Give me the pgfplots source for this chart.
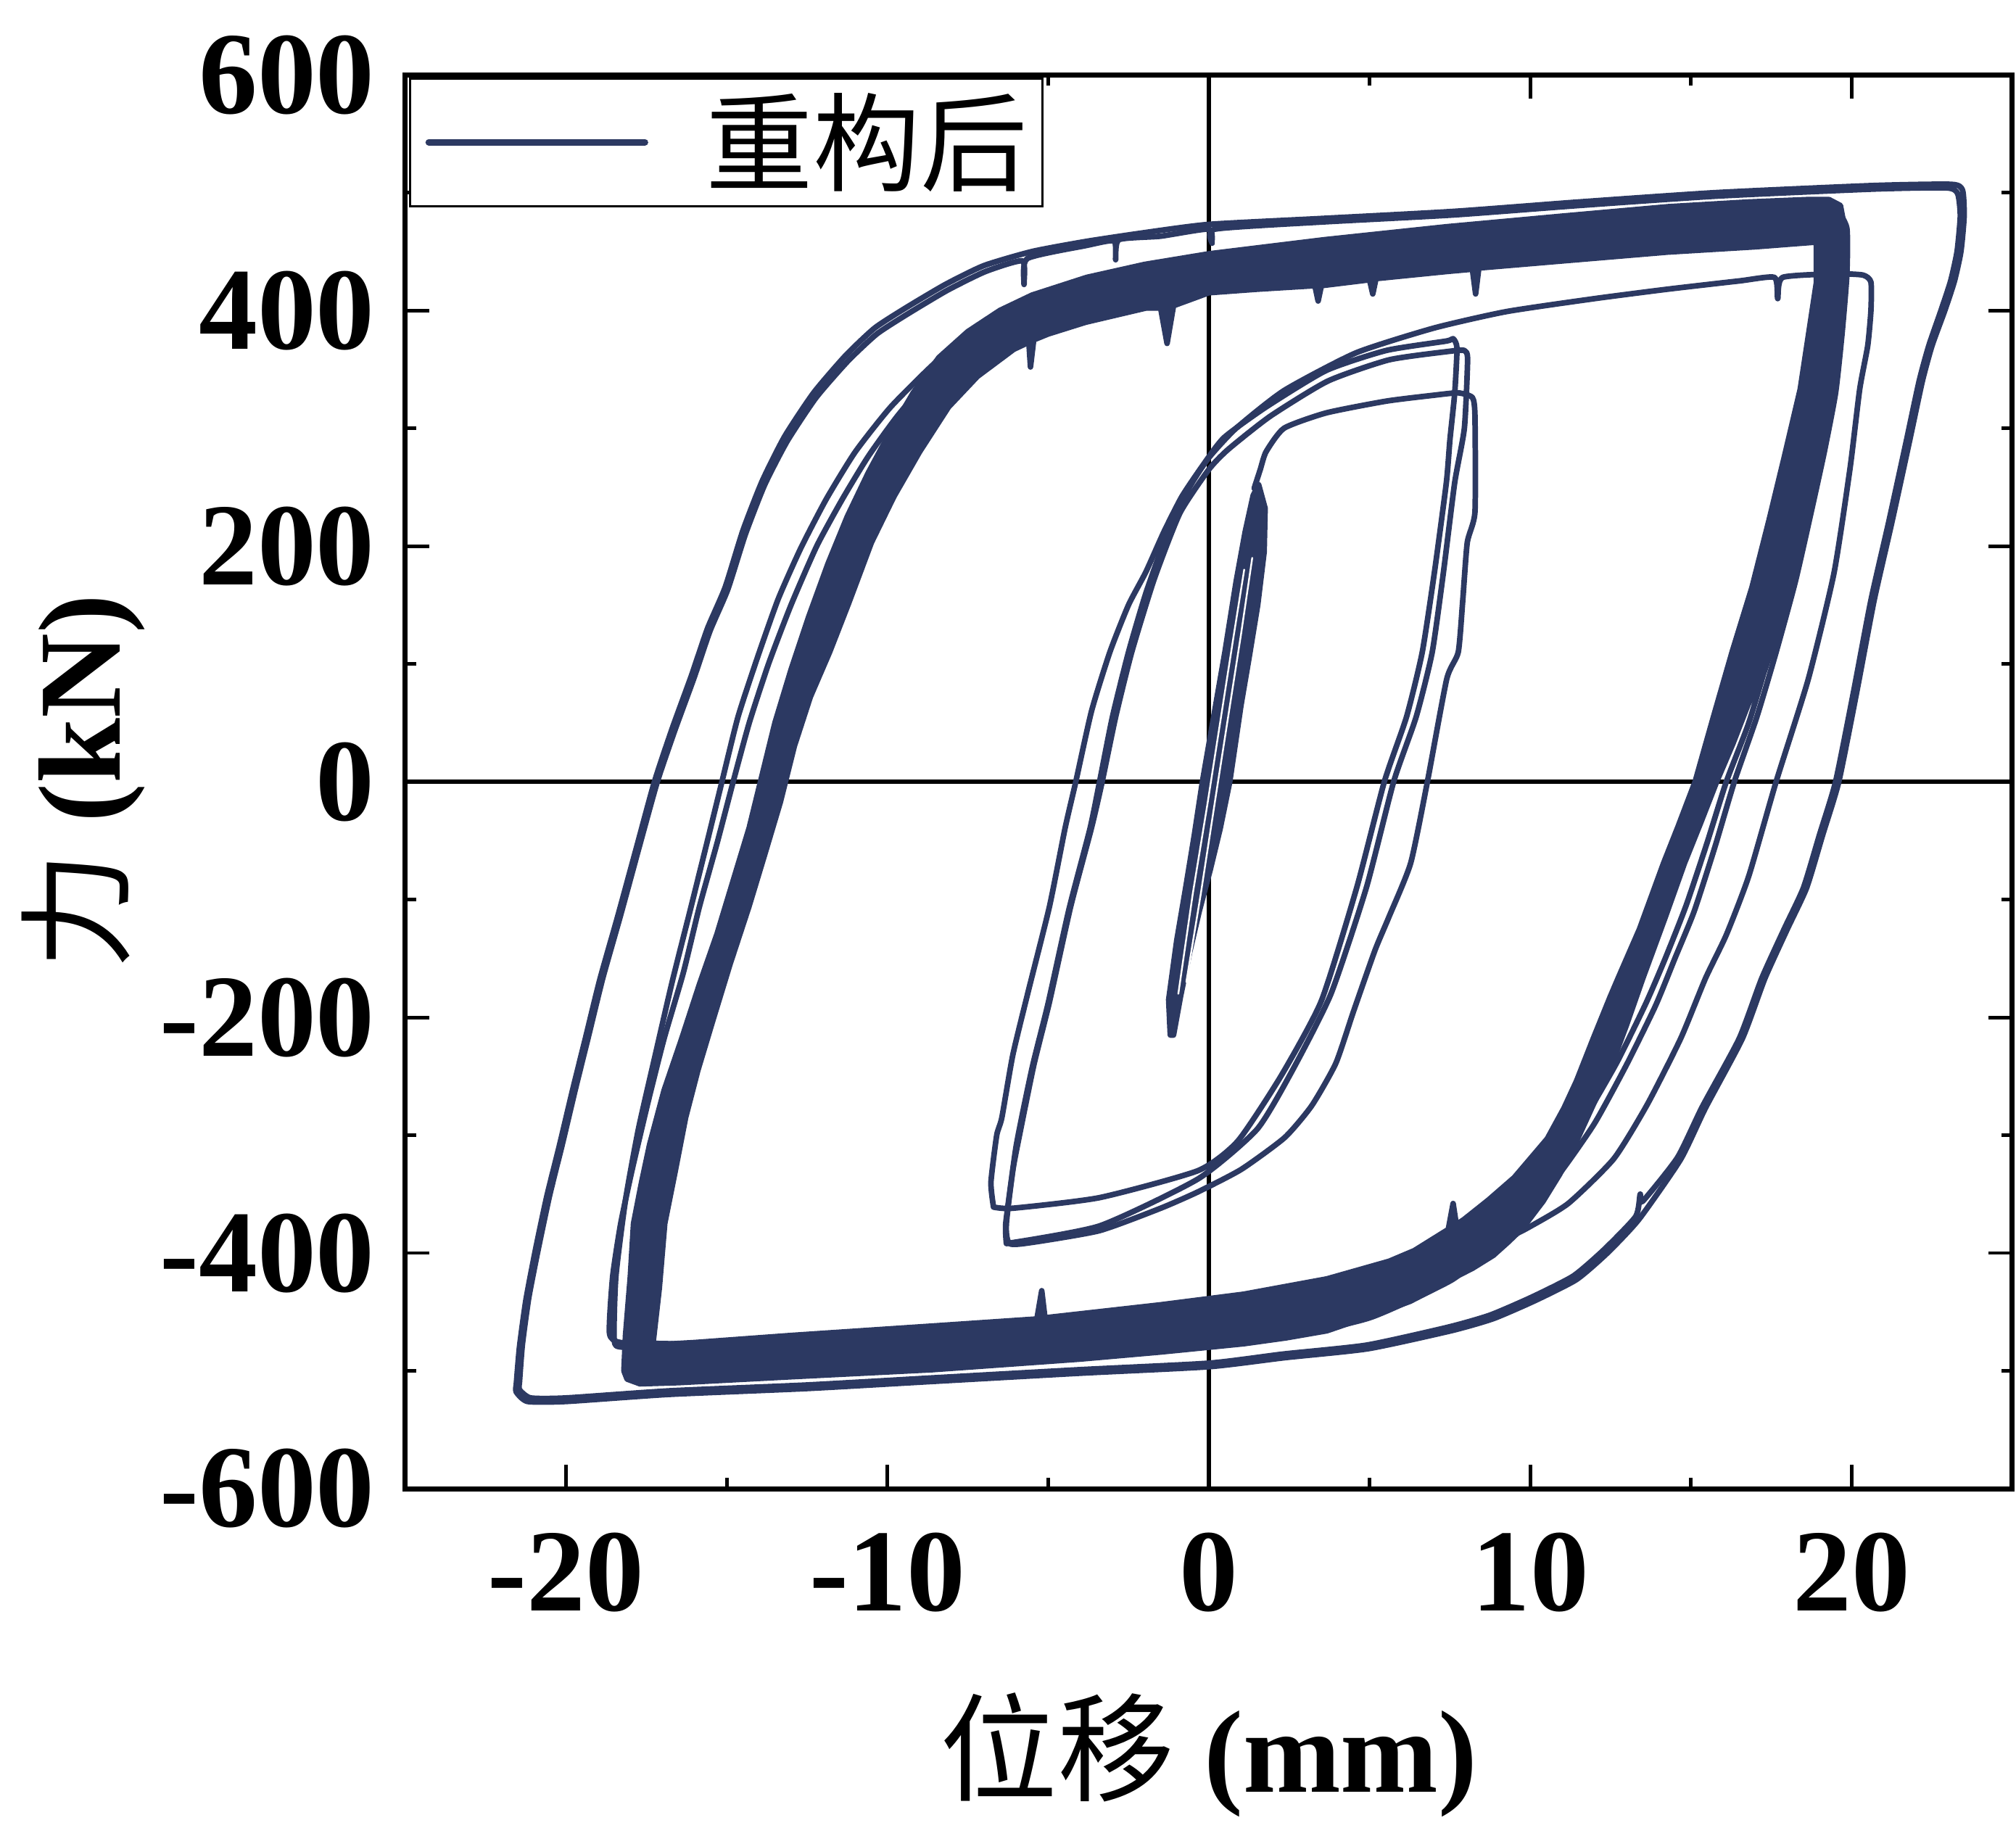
\documentclass[border=0pt]{standalone}
\usepackage{fontspec}
\setmainfont{Liberation Serif}
\newfontfamily\cjk{Noto Sans CJK SC}
\usepackage{pgfplots}
\pgfplotsset{compat=1.18}
\definecolor{navy}{RGB}{44,57,98}
\begin{document}
\begin{tikzpicture}
\begin{axis}[
  scale only axis,
  width=110.8mm, height=97.5mm,
  xmin=-25, xmax=25, ymin=-600, ymax=600,
  xtick={-20,-10,0,10,20},
  ytick={-600,-400,-200,0,200,400,600},
  minor xtick={-15,-5,5,15},
  minor ytick={-500,-300,-100,100,300,500},
  tick align=inside,
  major tick length=1.65mm,
  minor tick length=0.75mm,
  axis line style={line width=1pt},
  tick style={black, line width=0.7pt},
  /pgf/number format/assume math mode=true,
  ticklabel style={font=\fontsize{23}{23}\selectfont\bfseries},
  xticklabel style={inner sep=0pt, yshift=-8.5pt},
  yticklabel style={inner sep=0pt, xshift=-5.8pt},
  xlabel={{\cjk\mdseries 位移} (mm)},
  ylabel={{\cjk\mdseries 力} (kN)},
  label style={font=\fontsize{23}{23}\selectfont\bfseries},
  xlabel style={at={(axis description cs:0.5,-0.1882)}, anchor=center},
  ylabel style={at={(axis description cs:-0.2004,0.5)}, anchor=center},
  unbounded coords=jump,
  legend image code/.code={\draw[#1, line width=1.3pt] (0mm,0mm) -- (14.9mm,0mm);},
  legend style={at={(axis description cs:0,1)}, anchor=north west, xshift=0.25mm, yshift=-0.15mm,
    draw=black, line width=0.5pt, inner xsep=1.05mm, inner ysep=1.05mm,
    nodes={inner sep=0pt}, column sep=4.0mm,
    font=\fontsize{21}{21}\selectfont},
  every axis plot/.append style={line join=round, line cap=round},
  hyst/.style={navy, line width=1.1pt, smooth, tension=0.35},
]
\addplot[black, line width=0.75pt, forget plot] coordinates {(0,-600) (0,600)};
\addplot[black, line width=0.75pt, forget plot] coordinates {(-25,0) (25,0)};

% outer loop 1
\addplot[hyst] coordinates {
(-21.55,-512) (-21.45,-480) (-21.25,-440) (-20.95,-397) (-20.6,-352) (-20.2,-308) (-19.8,-262) (-19.4,-218) (-18.95,-168) (-18.4,-115) (-17.8,-55) (-17.25,0) (-16.7,45) (-16.1,90) (-15.6,130) (-15.05,165) (-14.5,213) (-13.9,255) (-13.2,293) (-12.3,330) (-11.31,361.5) (-10.4,385) (-9.44,402) (-8.2,422) (-7.0,438) (-5.5,450) (-3.83,458.5) (-2,466) (0,473) (3.5,478) (7.6,484) (11.5,492) (15.8,500) (20.7,506) (23.1,507) (23.45,502)
(23.5,480) (23.4,450) (23.2,425) (22.9,400) (22.5,370) (22.2,340) (21.8,289) (21.25,220) (20.7,154) (20.15,75) (19.6,0) (19.1,-45) (18.6,-90) (18.0,-125) (17.3,-167) (16.6,-218) (15.45,-277) (14.68,-320.5) (13.38,-371.5) (12.4,-400) (11.44,-422.5) (10.15,-440.4) (8.85,-455.7) (7.55,-465.9) (4.96,-481.2) (2.37,-488.8) (0,-496.5) (-4,-502) (-8.6,-509) (-12.5,-515) (-16.8,-520) (-20,-526) (-21.2,-526) (-21.55,-518) (-21.55,-512)};
\addlegendentry{\cjk 重构后}

% outer loop 2
\addplot[hyst, forget plot] coordinates {
(-21.45,-510) (-21.36,-478) (-21.16,-438) (-20.86,-396) (-20.51,-351) (-20.11,-307) (-19.71,-261) (-19.31,-217) (-18.86,-167) (-18.31,-114) (-17.71,-54) (-17.16,0) (-16.61,44) (-16.02,88) (-15.52,128) (-14.97,163) (-14.42,210) (-13.82,252) (-13.12,289) (-12.22,326) (-11.23,357) (-10.33,380) (-9.37,397) (-8.14,417) (-6.95,433) (-5.8,442) (-5.75,422) (-5.65,444) (-3.83,455) (-2.95,459) (-2.9,443) (-2.8,460) (-1.5,463) (0,469) (0.1,457) (0.2,469) (3.5,475) (7.6,481) (11.5,489) (15.8,497) (20.7,503) (22.95,504) (23.3,499)
(23.38,480) (23.28,450) (23.08,425) (22.78,400) (22.4,370) (22.1,340) (21.7,289) (21.15,220) (20.6,154) (20.05,75) (19.5,0) (19.0,-45) (18.5,-90) (17.9,-125) (17.2,-167) (16.5,-218) (15.35,-276) (14.58,-319) (13.5,-356) (13.42,-350) (13.28,-369) (12.3,-397) (11.34,-419.5) (10.05,-437.4) (8.75,-452.7) (7.45,-462.9) (4.9,-478.2) (2.3,-485.8) (0,-493.5) (-4,-499) (-8.6,-506) (-12.5,-512) (-16.8,-517) (-20,-523) (-21.1,-523) (-21.45,-516) (-21.45,-510)};

% middle lines
\addplot[hyst, forget plot] coordinates {
(-8,-485) (-12,-482) (-16,-481) (-18.2,-480) (-18.5,-474) (-18.45,-420) (-18.15,-355) (-17.75,-295) (-17.25,-235) (-16.7,-170) (-16.1,-105) (-15.6,-50) (-15.15,0) (-14.65,55) (-14.05,105) (-13.4,155) (-12.7,198) (-11.9,240) (-11.0,280) (-9.9,318) (-8.5,356) (-7.1,386) (-5.6,405)};
\addplot[hyst, forget plot] coordinates {
(19.5,488) (19.85,470) (19.85,430) (19.7,380) (19.5,330) (19.15,280) (18.75,230) (18.25,170) (17.65,110) (17.05,55) (16.35,0) (15.75,-55) (15.1,-110) (14.5,-150) (13.9,-190) (13.0,-240) (12.0,-290) (10.9,-333) (9.9,-364) (8.9,-390) (7.9,-410)};
\addplot[hyst, forget plot] coordinates {
(19.3,480) (19.6,460) (19.6,420) (19.45,370) (19.25,320) (18.9,272) (18.5,222) (18.0,165) (17.4,105) (16.8,50) (16.1,0) (15.5,-52) (14.85,-105) (14.2,-150) (13.6,-188) (12.7,-238) (11.7,-285) (10.6,-328) (9.6,-360) (8.6,-386) (7.6,-405)};

% first excursion (from elastic lens through +-8 and +20 mm)
\addplot[hyst, forget plot] coordinates {
(1.41,249) (1.6,265) (1.78,280) (2.34,300) (3.65,313) (5.52,323) (7.0,328) (7.76,330) (8.2,326) (8.28,310) (8.28,229) (8.04,203) (7.9,154) (7.76,110) (7.4,87) (6.8,0) (6.28,-69) (5.6,-115) (5.17,-143) (4.5,-195) (3.95,-239) (3.2,-275) (2.36,-302) (1.01,-329) (-0.33,-348) (-1.5,-362) (-3.4,-381) (-5.5,-391) (-6.2,-392)
(-6.3,-375) (-6.0,-310) (-5.5,-243) (-5.0,-188) (-4.35,-108) (-3.7,-40) (-3.4,0) (-3.0,55) (-2.5,110) (-1.96,160) (-1.3,210) (-0.6,250) (0,275) (0.85,300) (2.34,332) (4.58,364) (7,385) (9.26,399) (12,410) (14.27,418) (16.5,425) (17.6,428) (17.7,410) (17.85,428) (19.5,431) (20.35,430) (20.6,424) (20.6,400) (20.5,370) (20.25,333) (19.95,266) (19.45,177) (18.65,87) (17.65,0) (16.8,-80) (16.1,-130) (15.45,-167) (14.68,-218) (13.64,-274) (12.6,-320) (11.18,-358) (9.9,-379) (8.85,-394) (7.55,-423) (5.0,-455) (2.0,-473) (-1.5,-483) (-6,-486) (-10,-484) (-14,-480) (-16.8,-477) (-18.3,-476) (-18.65,-468) (-18.55,-420) (-18.3,-375) (-17.95,-330) (-17.45,-272) (-16.95,-218) (-16.35,-162) (-15.85,-106) (-15.3,-52) (-14.8,0) (-14.3,50) (-13.7,100) (-13.0,150) (-12.2,200) (-11.4,240) (-10.6,276) (-9.7,310) (-8.6,345) (-7.4,373) (-6.2,395) (-4.5,412) (-2.5,424) (0,433) (4,441) (8,449) (12,457)};

% dense band of repeated cycles (outer and inner edge)
\addplot[navy, line width=1.1pt, fill=navy, even odd rule, forget plot] coordinates {
(-18.2,-500) (-18.15,-470) (-18.0,-420) (-17.9,-375) (-17.65,-340) (-17.4,-308) (-16.95,-262) (-16.4,-218) (-15.85,-172) (-15.3,-129) (-14.8,-84) (-14.3,-39) (-13.95,0) (-13.5,50) (-13.0,95) (-12.45,140) (-11.85,185) (-11.25,225) (-10.6,262) (-9.95,295) (-9.2,330) (-8.4,360) (-7.5,382) (-6.5,400) (-5.5,413) (-3.8,428) (-2.0,439) (0,448) (3.6,460) (7.4,471) (11,480) (14.3,488) (16.8,492) (18.6,494) (19.3,494) (19.65,489) (19.78,470) (19.75,432) (19.6,380) (19.4,333) (19.1,290) (18.74,244) (18.3,190) (17.76,132) (17.3,95) (16.77,65) (16.3,32) (15.8,0) (15.3,-35) (14.8,-69) (14.2,-115) (13.5,-167) (13.0,-206) (12.48,-244) (11.96,-274) (11.44,-305) (10.92,-333) (10.4,-356) (9.76,-379) (9.3,-391) (8.85,-402) (8.2,-413) (7.55,-422) (6.9,-432) (6.26,-441) (4.96,-454) (3.67,-466) (2.4,-472) (1.08,-477) (-1.5,-484) (-4,-490) (-8.6,-499) (-13,-505) (-16.5,-510) (-17.7,-511) (-18.1,-507) (-18.2,-500)
(nan,nan)
(-17.3,-478) (-17.1,-430) (-16.93,-375) (-16.6,-330) (-16.28,-285) (-15.9,-245) (-15.46,-205) (-14.9,-155) (-14.31,-106) (-13.8,-60) (-13.33,-17) (-12.9,30) (-12.4,72) (-11.8,110) (-11.2,152) (-10.5,203) (-9.8,242) (-9.0,280) (-8.1,318) (-7.2,344) (-6.07,367) (-5.6,373) (-5.55,352) (-5.45,375) (-5,380) (-3.83,390) (-1.96,402) (-1.5,402) (-1.3,372) (-1.1,404) (0,415) (1.5,418) (3.3,421) (3.4,408) (3.5,421) (5.0,426) (5.1,414) (5.2,427) (7.39,433) (8.2,435) (8.3,414) (8.4,436) (11,442) (14.27,449.5) (17,454) (18.9,458) (18.9,423) (18.4,333) (17.9,275) (17.43,222) (16.9,165) (16.28,110) (15.7,55) (15.13,0) (14.6,-38) (14.15,-69) (13.4,-125) (12.73,-167) (12.48,-183) (11.96,-218) (11.44,-254) (11.05,-277) (10.53,-303) (10.0,-320) (9.5,-336) (8.7,-355) (7.94,-371.5) (7.7,-376) (7.6,-358) (7.45,-380) (6.39,-398) (5.61,-407) (3.67,-422) (1.08,-435) (-1.51,-444) (-5.1,-455) (-5.2,-432) (-5.35,-456) (-8.6,-462) (-13,-470) (-16,-476) (-17.3,-478)};

% +-8 mm loops
\addplot[hyst, forget plot] coordinates {
(-6.7,-361) (-6.78,-340) (-6.6,-300) (-6.44,-285) (-6.1,-232) (-5.62,-178) (-4.96,-106) (-4.47,-39) (-4.14,0) (-3.65,60) (-3.08,110) (-2.5,150) (-1.96,178) (-1.4,212) (-0.84,242) (-0.2,268) (0.47,292) (1.78,318) (3.65,349) (5.52,366) (7.39,374) (7.6,376) (7.72,368) (7.65,330) (7.5,290) (7.39,254) (7.02,178) (6.64,110) (6.15,55) (5.46,0) (4.6,-90) (3.5,-186) (2.24,-250) (0.9,-305) (-0.33,-330) (-3.4,-353) (-6.1,-362) (-6.7,-361)};
\addplot[hyst, forget plot] coordinates {
(-6.3,-392) (-6.32,-375) (-6.1,-330) (-5.95,-308) (-5.45,-241) (-4.96,-187) (-4.3,-106) (-3.65,-39) (-3.32,0) (-2.9,55) (-2.4,110) (-1.7,172) (-0.9,228) (0,265) (0.6,282) (1.9,310) (3.7,340) (5.6,358) (7.4,365) (7.95,366) (8.05,358) (7.95,300) (7.65,254) (7.3,178) (6.95,110) (6.45,55) (5.75,0) (4.9,-90) (3.8,-180) (2.6,-245) (1.5,-295) (-0.33,-337) (-3.4,-377) (-6.3,-392)};

% elastic cycles (dense, nearly filled lens)
\addplot[navy, line width=1.1pt, fill=navy, forget plot] coordinates {
(-1.2,-215) (-1.25,-185) (-1.0,-135) (-0.72,-90) (-0.45,-45) (-0.2,0) (0.15,55) (0.5,110) (0.85,170) (1.13,212) (1.38,243) (1.55,252) (1.75,232) (1.72,195) (1.52,150) (1.25,105) (1.0,65) (0.65,0) (0.35,-40) (0.04,-75) (-0.3,-110) (-0.6,-145) (-0.88,-182) (-1.1,-215) (-1.2,-215)};
\addplot[white, line width=0.35pt, forget plot] coordinates {
(-0.95,-180) (-0.5,-95) (-0.05,-20) (0.35,50) (0.75,120) (1.1,180)};
\addplot[white, line width=0.35pt, forget plot] coordinates {
(-0.7,-170) (-0.25,-95) (0.2,-15) (0.6,55) (1.0,125) (1.35,190)};
\end{axis}
\pgfresetboundingbox
\path (-27.95mm,-23.35mm) rectangle (111.05mm,102.65mm);
\end{tikzpicture}
\end{document}
